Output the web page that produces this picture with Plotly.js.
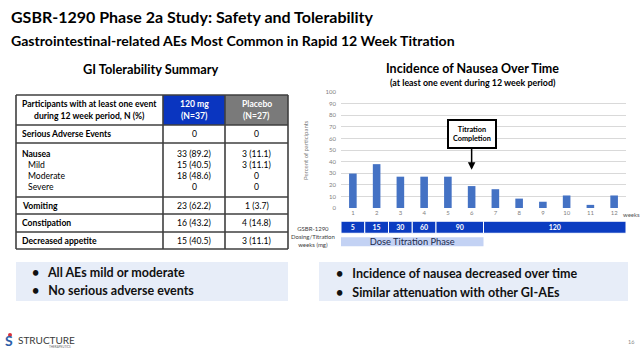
<!DOCTYPE html>
<html>
<head>
<meta charset="utf-8">
<script src="https://cdn.plot.ly/plotly-3.0.1.min.js"></script>
<style>
  html, body { margin: 0; padding: 0; background: #fff; }
  #chart { width: 640px; height: 351px; }
</style>
</head>
<body>
<div id="chart"></div>
<script>
// ---------------- DATA ----------------
const weeks = [1, 2, 3, 4, 5, 6, 7, 8, 9, 10, 11, 12];
const nauseaPct = [29.7, 37.8, 27.0, 27.0, 27.0, 18.9, 16.2, 8.1, 5.4, 10.8, 2.7, 10.8];

const doses = [5, 15, 30, 60, 90, 120];
const doseStartWeek = [1, 2, 3, 4, 5, 7];
const doseEndWeek = [1, 2, 3, 4, 6, 12];
const titrationEndWeek = 6;

const aeLabels = ['Serious Adverse Events', 'Nausea', 'Vomiting', 'Constipation', 'Decreased appetite'];
const drugN = [0, 33, 23, 16, 15];
const drugPct = [null, 89.2, 62.2, 43.2, 40.5];
const placeboN = [0, 3, 1, 4, 3];
const placeboPct = [null, 11.1, 3.7, 14.8, 11.1];

const nauseaGrades = ['Mild', 'Moderate', 'Severe'];
const nauseaGradeDrugN = [15, 18, 0];
const nauseaGradeDrugPct = [40.5, 48.6, null];
const nauseaGradePlaceboN = [3, 0, 0];
const nauseaGradePlaceboPct = [11.1, null, null];

const headerLines = [
  ['Participants with at least one event', 'during 12 week period, N (%)'],
  ['120 mg', '(N=37)'],
  ['Placebo', '(N=27)']
];
const leftBullets = ['All AEs mild or moderate', 'No serious adverse events'];
const rightBullets = ['Incidence of nausea decreased over time', 'Similar attenuation with other GI-AEs'];

// ---------------- HELPERS ----------------
const W = 640, H = 351;
const px = v => v / W;
const py = v => 1 - v / H;
const FONT = 'Lato, "Open Sans", sans-serif';
const fmt = (n, p) => (p === null || p === undefined) ? String(n) : `${n} (${p.toFixed(1)})`;

const ann = (text, x, y, size, opts) => Object.assign({
  text, x: px(x), y: py(y), xref: 'paper', yref: 'paper', showarrow: false,
  xanchor: 'center', yanchor: 'middle', borderpad: 0,
  font: { family: FONT, size, color: '#000000' }
}, opts || {});

const annotations = [];
const shapes = [];

// ---------------- TABLE (built from the arrays) ----------------
const colX = [16, 163, 225, 288];
const rowY = [95, 125, 143, 197, 214, 232, 249];   // header, serious, nausea, vomiting, constipation, appetite
const headerFill = ['#ffffff', '#0a35c0', '#7a7a7a'];
const headerColor = ['#000000', '#ffffff', '#ffffff'];
const TF = 8.6;
const LINE = '#3f3f3f';

headerFill.forEach((c, j) => {
  shapes.push({ type: 'rect', xref: 'paper', yref: 'paper', x0: px(colX[j]), x1: px(colX[j + 1]), y0: py(rowY[1]), y1: py(rowY[0]), fillcolor: c, line: { width: 0 }, layer: 'below' });
  headerLines[j].forEach((t, k) => {
    annotations.push(ann('<b>' + t + '</b>', (colX[j] + colX[j + 1]) / 2, rowY[0] + 9 + k * 12, TF, { font: { family: FONT, size: TF, color: headerColor[j] } }));
  });
});

aeLabels.forEach((label, i) => {
  const top = rowY[i + 1];
  const bot = rowY[i + 2];
  const c1 = (colX[1] + colX[2]) / 2, c2 = (colX[2] + colX[3]) / 2;
  if (label === 'Nausea') {
    const y0 = top + 11.3;
    annotations.push(ann('<b>' + label + '</b>', colX[0] + 5, y0, TF, { xanchor: 'left' }));
    annotations.push(ann(fmt(drugN[i], drugPct[i]), c1, y0, TF));
    annotations.push(ann(fmt(placeboN[i], placeboPct[i]), c2, y0, TF));
    nauseaGrades.forEach((g, k) => {
      const yy = y0 + (k + 1) * 11;
      annotations.push(ann(g, colX[0] + 11, yy, TF, { xanchor: 'left' }));
      annotations.push(ann(fmt(nauseaGradeDrugN[k], nauseaGradeDrugPct[k]), c1, yy, TF));
      annotations.push(ann(fmt(nauseaGradePlaceboN[k], nauseaGradePlaceboPct[k]), c2, yy, TF));
    });
  } else {
    const yy = (top + bot) / 2;
    annotations.push(ann('<b>' + label + '</b>', colX[0] + 5, yy, TF, { xanchor: 'left' }));
    annotations.push(ann(fmt(drugN[i], drugPct[i]), c1, yy, TF));
    annotations.push(ann(fmt(placeboN[i], placeboPct[i]), c2, yy, TF));
  }
});

rowY.forEach(y => {
  shapes.push({ type: 'line', xref: 'paper', yref: 'paper', x0: px(colX[0]), x1: px(colX[3]), y0: py(y), y1: py(y), line: { color: LINE, width: 1.6 } });
});
colX.forEach(x => {
  shapes.push({ type: 'line', xref: 'paper', yref: 'paper', x0: px(x), x1: px(x), y0: py(rowY[0]), y1: py(rowY[rowY.length - 1]), line: { color: LINE, width: 1.6 } });
});

// ---------------- TRACES ----------------
const nauseaTrace = {
  type: 'bar',
  x: weeks,
  y: nauseaPct,
  xaxis: 'x', yaxis: 'y',
  width: 0.32,
  marker: { color: '#4472c4' },
  hoverinfo: 'skip'
};

const doseTrace = {
  type: 'bar',
  orientation: 'h',
  xaxis: 'x', yaxis: 'y2',
  y: doses.map(() => 'Dose'),
  base: doseStartWeek.map(s => s - 0.5),
  x: doseStartWeek.map((s, i) => doseEndWeek[i] - s + 1),
  width: 0.83,
  text: doses.map(String),
  texttemplate: '<b>%{text}</b>',
  textposition: 'inside',
  insidetextanchor: 'middle',
  constraintext: 'none',
  textangle: 0,
  textfont: { family: FONT, size: 7, color: '#ffffff' },
  marker: { color: '#0b3cc1', line: { color: '#ffffff', width: 1 } },
  hoverinfo: 'skip'
};

const phaseTrace = {
  type: 'bar',
  orientation: 'h',
  xaxis: 'x', yaxis: 'y2',
  y: ['Phase'],
  base: [doseStartWeek[0] - 0.5],
  x: [titrationEndWeek - doseStartWeek[0] + 1],
  width: 0.62,
  text: ['Dose Titration Phase'],
  textposition: 'inside',
  insidetextanchor: 'middle',
  constraintext: 'none',
  textangle: 0,
  textfont: { family: FONT, size: 9.3, color: '#1c2a4d' },
  marker: { color: '#c3d2f4' },
  hoverinfo: 'skip'
};

// ---------------- OTHER TEXT ----------------
annotations.push(
  ann('<b>GSBR-1290 Phase 2a Study: Safety and Tolerability</b>', 10, 17, 16, { xanchor: 'left' }),
  ann('<b>Gastrointestinal-related AEs Most Common in Rapid 12 Week Titration</b>', 10, 40, 14.1, { xanchor: 'left' }),
  ann('<b>GI Tolerability Summary</b>', 151, 69, 12.8),
  ann('<b>Incidence of Nausea Over Time</b>', 472, 69, 12.5),
  ann('<b>(at least one event during 12 week period)</b>', 473, 83, 8.9),
  ann('Percent of participants', 305, 150, 6, { textangle: -90, font: { family: FONT, size: 6, color: '#7f7f7f' } }),
  ann('weeks', 631, 214, 6, { font: { family: FONT, size: 6, color: '#555555' } }),
  ann('GSBR-1290<br>Dosing/Titration<br>weeks (mg)', 313, 236, 6, { font: { family: FONT, size: 6, color: '#404040' } }),
  {
    text: '<b>Titration<br>Completion</b>',
    x: titrationEndWeek, y: 33, xref: 'x', yref: 'y',
    showarrow: true, ax: 0, ay: -36, axref: 'pixel', ayref: 'pixel',
    arrowhead: 2, arrowsize: 1, arrowwidth: 1.5, arrowcolor: '#000000',
    bordercolor: '#000000', borderwidth: 2, borderpad: 4, bgcolor: '#ffffff',
    font: { family: FONT, size: 7.3, color: '#000000' }
  },
  ann('16', 631, 342, 5.5, { font: { family: FONT, size: 5.5, color: '#8a8a8a' } }),
  ann('<b>S</b>', 9, 340, 14, { font: { family: FONT, size: 14, color: '#2d5ea8' } }),
  ann('STRUCTURE', 17, 340, 10, { xanchor: 'left', font: { family: FONT, size: 10, color: '#3a3a3a' } }),
  ann('THERAPEUTICS', 72, 347, 3, { xanchor: 'right', font: { family: FONT, size: 3, color: '#666666' } })
);

leftBullets.forEach((t, i) => {
  annotations.push(ann('<b>•\u00a0\u00a0\u00a0' + t + '</b>', 31, 272 + i * 18.5, 12.5, { xanchor: 'left', font: { family: FONT, size: 12.5, color: '#111111' } }));
});
rightBullets.forEach((t, i) => {
  annotations.push(ann('<b>•\u00a0\u00a0\u00a0' + t + '</b>', 335, 273 + i * 19, 12.5, { xanchor: 'left', font: { family: FONT, size: 12.5, color: '#111111' } }));
});

shapes.push(
  { type: 'rect', xref: 'paper', yref: 'paper', x0: px(16), x1: px(288), y0: py(301), y1: py(262), fillcolor: '#e7edf8', line: { width: 0 }, layer: 'below' },
  { type: 'rect', xref: 'paper', yref: 'paper', x0: px(319), x1: px(628), y0: py(301), y1: py(262), fillcolor: '#e7edf8', line: { width: 0 }, layer: 'below' },
  { type: 'circle', xref: 'paper', yref: 'paper', x0: px(8), x1: px(12), y0: py(337), y1: py(333), fillcolor: '#d9303a', line: { width: 0 } }
);

// ---------------- LAYOUT ----------------
const layout = {
  width: W, height: H,
  margin: { l: 0, r: 0, t: 0, b: 0, pad: 0 },
  paper_bgcolor: '#ffffff',
  plot_bgcolor: 'rgba(0,0,0,0)',
  showlegend: false,
  barmode: 'overlay',
  font: { family: FONT },
  xaxis: {
    domain: [px(341), px(626)],
    range: [0.5, 12.5],
    tickvals: weeks,
    ticktext: weeks.map(String),
    showgrid: false, zeroline: false, showline: false, ticks: '',
    tickfont: { family: FONT, size: 6, color: '#7f7f7f' },
    anchor: 'y',
    fixedrange: true
  },
  yaxis: {
    domain: [py(208), py(92)],
    range: [0, 100],
    dtick: 10,
    showgrid: true, gridcolor: '#d9d9d9', gridwidth: 1,
    zeroline: false, showline: false, ticks: '',
    tickfont: { family: FONT, size: 6, color: '#808080' },
    ticklabelstandoff: 4,
    anchor: 'x',
    fixedrange: true
  },
  yaxis2: {
    domain: [py(249), py(220)],
    type: 'category',
    categoryorder: 'array',
    categoryarray: ['Phase', 'Dose'],
    range: [-0.5, 1.5],
    visible: false,
    anchor: 'x',
    fixedrange: true
  },
  annotations,
  shapes
};

Plotly.newPlot('chart', [nauseaTrace, doseTrace, phaseTrace], layout, { displayModeBar: false, staticPlot: true });
</script>
</body>
</html>
